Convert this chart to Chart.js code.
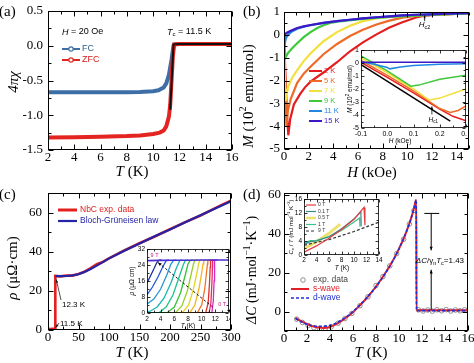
<!DOCTYPE html>
<html><head><meta charset="utf-8">
<script src="https://cdn.jsdelivr.net/npm/chart.js@4.4.0/dist/chart.umd.min.js"></script>
<style>
html,body{margin:0;padding:0;background:#fff;width:474px;height:363px;overflow:hidden;position:relative}
canvas{position:absolute}
</style></head><body>
<script>
// ================= DATA =================
// (a) susceptibility
const aT_FC   = [2,4,6,8,9,10,10.4,10.8,11.0,11.2,11.4,11.55,11.7,12,13,14,15,16];
const aChi_FC = [-0.67,-0.67,-0.67,-0.67,-0.665,-0.655,-0.64,-0.6,-0.54,-0.42,-0.2,0.0,0.02,0.025,0.025,0.025,0.025,0.025];
const aT_ZFC   = [2,4,6,8,9,10,10.5,10.8,11.0,11.2,11.3,11.4,11.5,11.6,12,13,14,15,16];
const aChi_ZFC = [-1.32,-1.315,-1.31,-1.30,-1.29,-1.27,-1.25,-1.22,-1.16,-1.02,-0.85,-0.5,-0.15,0.02,0.025,0.025,0.025,0.025,0.025];
const aT_fit   = [11.3,11.55,12,16];
const aChi_fit = [-0.92,0.02,0.025,0.025];
const aXMajor = [2,4,6,8,10,12,14,16], aYMajor = [-1.5,-1,-0.5,0,0.5];

// (b) M(H) curves, H in kOe, M in 10^2 emu/mol
const bH_2K  = [0,0.12,0.25,0.35,0.5,0.8,1.3,1.7,2.15,3.2,4.3,5.35,6.4,7.5,8.55,9.6,10.7,11.4,12.5,13.5,15];
const bM_2K  = [0,-1.8,-3.6,-4.4,-3.7,-3.05,-2.6,-2.3,-2.05,-1.65,-1.2,-0.72,-0.33,0.02,0.32,0.55,0.76,0.84,0.88,0.91,0.95];
const bH_5K  = [0,0.1,0.2,0.32,0.55,1.07,1.6,2.15,3.2,4.3,5.35,6.4,7.5,8.55,9.6,10.7,12,13,14,15];
const bM_5K  = [0,-2.0,-4.0,-3.3,-2.8,-2.1,-1.7,-1.4,-0.85,-0.4,-0.05,0.22,0.45,0.62,0.75,0.83,0.88,0.91,0.93,0.95];
const bH_7K  = [0,0.05,0.13,0.32,0.64,1.07,1.6,2.15,3.2,4.3,5.35,6.4,7.5,8.55,10.7,12.8,15];
const bM_7K  = [0,-1.5,-2.9,-2.3,-1.9,-1.55,-1.15,-0.82,-0.28,0.12,0.4,0.6,0.72,0.78,0.85,0.9,0.94];
const bH_9K  = [0,0.05,0.11,0.32,0.64,1.07,1.6,2.15,2.7,3.2,3.75,4.3,6.4,8.55,10.7,12.8,15];
const bM_9K  = [0,-0.5,-1.0,-0.8,-0.6,-0.37,-0.1,0.12,0.3,0.42,0.52,0.58,0.7,0.78,0.84,0.89,0.94];
const bH_11K = [0,0.05,0.15,0.32,0.64,1.07,1.6,2.15,3.2,4.3,5.35,6.4,7.5,8.55,9.6,10.7,11.8,12.8,13.9,15];
const bM_11K = [0,-0.4,-0.15,0.0,0.15,0.27,0.36,0.42,0.52,0.6,0.66,0.72,0.77,0.81,0.85,0.88,0.9,0.92,0.94,0.95];
const bH_15K = [0,0.27,0.55,1.07,1.6,2.15,3.2,4.3,5.35,6.4,7.5,8.55,9.6,10.7,11.8,12.8,13.9,15];
const bM_15K = [0,0.1,0.18,0.3,0.37,0.43,0.52,0.6,0.66,0.72,0.77,0.81,0.85,0.88,0.9,0.92,0.94,0.95];
const bLabels = ['2 K','5 K','7 K','9 K','11 K','15 K'];
// (b) inset, low field
const bInH_2K  = [-0.1,0.0,0.1,0.2,0.25,0.3];
const bInM_2K  = [0.05,-1.1,-2.3,-3.55,-4.1,-4.45];
const bInH_5K  = [-0.1,0.0,0.1,0.2,0.24,0.27,0.3];
const bInM_5K  = [0.2,-0.95,-2.15,-3.5,-3.8,-3.65,-3.3];
const bInH_7K  = [-0.1,0.0,0.1,0.16,0.2,0.25,0.3];
const bInM_7K  = [0.4,-0.75,-2.0,-2.85,-2.7,-2.35,-2.0];
const bInH_9K  = [-0.1,0.0,0.09,0.12,0.2,0.3];
const bInM_9K  = [0.55,-0.6,-1.78,-1.7,-1.25,-0.95];
const bInH_11K = [-0.1,-0.05,0.0,0.01,0.05,0.1,0.2,0.3];
const bInM_11K = [0.1,-0.1,-0.35,-0.45,-0.3,-0.2,-0.1,-0.05];
const bInH_15K = [-0.1,0.3];
const bInM_15K = [0.05,0.05];
const bInH_line = [-0.1,0.24];
const bInM_line = [-0.13,-4.48];

// (c) resistivity
const cT_exp   = [0,4,8,11.5,11.7,12.3,20,30,40,50,60,70,80,90,100,125,150,175,200,225,250,270,285,300];
const cRho_exp = [0.6,0.5,0.6,0.6,27.3,27.6,27.4,27.8,27.8,28.6,29.8,31.6,33.6,34.8,36.6,40.6,44.3,47.8,51.5,55.1,58.5,61.6,63.9,66.1];
const cT_fit   = [12.3,20,30,40,50,60,70,80,90,100,125,150,175,200,225,250,275,300];
const cRho_fit = [27.5,27.5,27.6,27.9,28.5,29.7,31.2,32.9,34.7,36.6,40.5,44.2,47.9,51.4,55.0,58.6,62.2,65.8];
// (c) inset: rho(T) in fields, [T, rho] pairs
const cInsetCurves = [
  [[2,15],[2.5,18.5],[3,22],[3.4,25],[3.7,26.3],[4.1,26.5]],
  [[2,9],[2.8,13],[3.6,18],[4.3,23],[4.8,26.2],[5.2,26.5]],
  [[2,4.5],[3,7],[4,12],[4.9,19],[5.5,24.5],[5.9,26.3],[6.3,26.5]],
  [[2,0.5],[2.5,1],[3.5,3],[4.5,7.5],[5.5,15],[6.3,22.5],[6.8,26.2],[7.2,26.5]],
  [[2,0],[3.8,0.3],[4.8,3],[5.8,9],[6.7,18],[7.3,24],[7.6,26.2],[8,26.5]],
  [[2,0],[5,0.3],[6,3],[6.9,10],[7.6,19],[8.0,24.5],[8.3,26.2],[8.7,26.5]],
  [[2,0],[6.2,0.3],[7.1,3.5],[7.9,11],[8.5,20],[8.8,24.5],[9.0,26.2],[9.4,26.5]],
  [[2,0],[7.2,0.3],[8.1,4],[8.8,12],[9.3,20],[9.55,24.5],[9.7,26.2],[10.1,26.5]],
  [[2,0],[8.3,0.3],[9.0,4],[9.6,12],[10.0,20],[10.2,24.5],[10.3,26.2],[10.7,26.5]],
  [[2,0],[9.4,0.3],[10.0,4],[10.45,12],[10.7,20],[10.85,24.5],[10.9,26.2],[11.3,26.5]],
  [[2,0],[10.6,0.3],[10.95,5],[11.15,15],[11.25,23],[11.3,26.2],[11.7,26.5]],
  [[2,0],[11.1,0.3],[11.35,5],[11.5,15],[11.58,23],[11.6,26.2],[12,26.5]],
  [[2,0],[11.5,0.3],[11.7,6],[11.82,16],[11.88,24],[11.9,26.3],[12.3,26.5]]
];
const cInsetTop = [[2,26.2],[4,26.3],[6,26.4],[8,26.4],[10,26.5],[12,26.5],[14,26.5]];

// (d) specific heat
const dT = [1,1.5,2,2.5,3,3.5,4,4.5,5,5.5,6,6.5,7,7.5,8,8.5,9,9.5,10,10.5,11,11.3,11.5,11.52,12,13,14,15,16];
const dS = [-3.3,-4.9,-6.4,-7.6,-8.2,-8.4,-7.9,-6.6,-4.8,-2.7,-0.3,2.6,5.7,9.1,12.9,17.0,21.6,26.6,32.4,39.0,47.0,53.0,57.5,0.7,0.7,0.7,0.7,0.7,0.7];
const dD = [-3.6,-5.3,-6.6,-7.3,-7.6,-7.5,-7.1,-6.0,-4.4,-2.4,0.0,2.8,5.8,9.1,12.8,16.9,21.4,26.4,32.2,38.9,47.0,53.0,57.5,0.5,0.5,0.5,0.5,0.5,0.5];
const dExpT = [1.1,1.6,2.1,2.6,3.1,3.6,4.1,4.7,5.3,5.9,6.6,7.3,8.0,8.6,9.2,9.8,10.4,10.9,11.3,11.7,12.1,12.5,12.9,13.3,13.7,14.1,14.5,14.9,15.3,15.7];
const dExp  = [-3.9,-5.6,-7.2,-8.3,-8.8,-8.6,-7.9,-6.0,-3.6,-1.0,3.0,7.6,13.4,18.0,23.5,29.8,37.2,45.0,52.0,0.9,0.3,0.8,0.2,0.9,0.4,1.0,0.3,0.8,0.4,0.9];
// (d) inset: Ce/T vs T
const dInNormal = [[2,2.8],[6,4.4],[10,6.7],[14,9.4]];
const dIn0T   = [[2,0.8],[4,2.6],[6,4.8],[8,7.3],[10,10.2],[11.6,13.6],[11.75,8.5]];
const dIn01T  = [[2,3.0],[3,3.8],[4,4.0],[6,5.2],[8,7.5],[10,10.3],[11.1,12.3],[11.15,8.2]];
const dIn05T  = [[2,1.8],[4,3.8],[6,6.2],[7.8,8.8]];
const dIn1T   = [[2,3.4],[3,4.1],[4,4.2],[6,5.3],[8,7.0],[10,9.4],[10.9,10.6],[10.95,8.1]];
const dInLabels = ['0 T','0.1 T','0.5 T','1 T','9 T'];

// ================= HELPERS =================
const SERIF = '"Liberation Serif","Times New Roman",serif';
const SANS = '"Liberation Sans",Arial,sans-serif';
const xy = (xs, ys) => xs.map((x, i) => ({x, y: ys[i]}));
const pr = arr => arr.map(p => ({x: p[0], y: p[1]}));
const range = (a, b, s) => { const r = []; for (let v = a; v <= b + 1e-9; v += s) r.push(+v.toFixed(6)); return r; };

function richText(ctx, segs, x, y, o) {
  const size = o.size, fam = o.family || SANS;
  ctx.save();
  ctx.translate(x, y);
  if (o.rotate) ctx.rotate(o.rotate);
  ctx.textBaseline = 'middle';
  ctx.textAlign = 'left';
  ctx.fillStyle = o.color || '#000';
  const fontFor = st => {
    const small = st.includes('b') || st.includes('p');
    return (st.includes('i') ? 'italic ' : '') + (small ? size * 0.68 : size) + 'px ' + fam;
  };
  let total = 0;
  const w = segs.map(([t, st]) => { ctx.font = fontFor(st || ''); const m = ctx.measureText(t).width; total += m; return m; });
  let cx = o.align === 'left' ? 0 : o.align === 'right' ? -total : -total / 2;
  segs.forEach(([t, st], i) => {
    st = st || '';
    ctx.font = fontFor(st);
    const dy = st.includes('b') ? size * 0.3 : st.includes('p') ? -size * 0.35 : 0;
    ctx.fillText(t, cx, dy);
    cx += w[i];
  });
  ctx.restore();
}
function seg(ctx, x1, y1, x2, y2, color, lw, dash) {
  ctx.save(); ctx.strokeStyle = color; ctx.lineWidth = lw || 1;
  if (dash) ctx.setLineDash(dash);
  ctx.beginPath(); ctx.moveTo(x1, y1); ctx.lineTo(x2, y2); ctx.stroke(); ctx.restore();
}
function arrowLine(ctx, x1, y1, x2, y2, o) {
  o = o || {};
  seg(ctx, x1, y1, x2, y2, o.color || '#000', o.lw || 1, o.dash);
  const h = o.head || 4, ang = Math.atan2(y2 - y1, x2 - x1);
  ctx.save(); ctx.fillStyle = o.color || '#000';
  ctx.beginPath(); ctx.moveTo(x2, y2);
  ctx.lineTo(x2 - h * Math.cos(ang - 0.4), y2 - h * Math.sin(ang - 0.4));
  ctx.lineTo(x2 - h * Math.cos(ang + 0.4), y2 - h * Math.sin(ang + 0.4));
  ctx.closePath(); ctx.fill(); ctx.restore();
}
function circ(ctx, x, y, r, stroke, fill, lw) {
  ctx.save(); ctx.beginPath(); ctx.arc(x, y, r, 0, Math.PI * 2);
  if (fill) { ctx.fillStyle = fill; ctx.fill(); }
  ctx.strokeStyle = stroke; ctx.lineWidth = lw || 1; ctx.stroke(); ctx.restore();
}
function line(data, color, width, extra) {
  return Object.assign({data, showLine: true, borderColor: color, backgroundColor: color, borderWidth: width, pointRadius: 0, tension: 0}, extra || {});
}

function build(o) {
  const b = o.box, a = o.area;
  const cv = document.createElement('canvas');
  cv.width = b.w; cv.height = b.h;
  cv.style.left = b.x + 'px'; cv.style.top = b.y + 'px';
  document.body.appendChild(cv);
  const tf = {family: o.tickFamily || SERIF, size: o.tickSize || 13};
  const fr = o.frame;
  const plugin = {
    id: 'frame_' + Math.random().toString(36).slice(2),
    beforeDraw(chart) {
      if (o.bg) { const c = chart.ctx; c.save(); c.fillStyle = o.bg; c.fillRect(0, 0, chart.width, chart.height); c.restore(); }
    },
    afterDraw(chart) {
      const ctx = chart.ctx, ca = chart.chartArea, xs = chart.scales.x, ys = chart.scales.y;
      const L = Math.round(ca.left) + 0.5, R = Math.round(ca.right) - 0.5, T = Math.round(ca.top) + 0.5, B = Math.round(ca.bottom) - 0.5;
      ctx.save();
      ctx.strokeStyle = '#000'; ctx.lineWidth = fr.lw || 1;
      ctx.strokeRect(L, T, R - L, B - T);
      ctx.beginPath();
      const tk = (list, len, horiz) => (list || []).forEach(v => {
        if (horiz) { const p = Math.round(xs.getPixelForValue(v)) + 0.5; ctx.moveTo(p, B); ctx.lineTo(p, B - len); ctx.moveTo(p, T); ctx.lineTo(p, T + len); }
        else { const p = Math.round(ys.getPixelForValue(v)) + 0.5; ctx.moveTo(L, p); ctx.lineTo(L + len, p); ctx.moveTo(R, p); ctx.lineTo(R - len, p); }
      });
      tk(fr.xMaj, fr.maj, true); tk(fr.xMin, fr.min, true);
      tk(fr.yMaj, fr.maj, false); tk(fr.yMin, fr.min, false);
      ctx.stroke();
      ctx.restore();
      if (o.draw) {
        ctx.save(); ctx.translate(-b.x, -b.y);
        const X = v => xs.getPixelForValue(v) + b.x, Y = v => ys.getPixelForValue(v) + b.y;
        o.draw(ctx, X, Y);
        ctx.restore();
      }
    }
  };
  return new Chart(cv, {
    type: 'scatter',
    data: {datasets: o.datasets},
    options: {
      responsive: false, animation: false, devicePixelRatio: 1,
      layout: {autoPadding: false, padding: {left: 0, top: a.t - b.y, right: b.x + b.w - a.r, bottom: 0}},
      plugins: {legend: {display: false}, tooltip: {enabled: false}},
      elements: {line: {capBezierPoints: true}},
      scales: {
        x: {type: 'linear', position: 'bottom', min: o.x.min, max: o.x.max,
            ticks: {stepSize: o.x.step, font: tf, color: '#000', padding: o.x.pad || 0, autoSkip: false, maxRotation: 0, includeBounds: false,
                    callback: o.x.fmt || (v => String(v))},
            grid: {display: false, drawTicks: false}, border: {display: false},
            afterFit(s) { s.height = b.y + b.h - a.b; s.paddingLeft = 0; s.paddingRight = 0; }},
        y: {type: 'linear', position: 'left', min: o.y.min, max: o.y.max,
            ticks: {stepSize: o.y.step, font: tf, color: '#000', padding: o.y.pad || 0, autoSkip: false, includeBounds: false,
                    callback: o.y.fmt || (v => String(v))},
            grid: {display: false, drawTicks: false}, border: {display: false},
            afterFit(s) { s.width = a.l - b.x; s.paddingTop = 0; s.paddingBottom = 0; }}
      }
    },
    plugins: [plugin]
  });
}

// ================= COLORS =================
const C_FC = '#3d6fa6', C_ZFC = '#e32420';
const bColors = ['#e41d1f', '#ee6a26', '#f3e03c', '#3ec83a', '#2386e2', '#3d17c6'];
const cInsetColors = ['#1c2f9c','#2456d8','#2596d6','#19b5b5','#1fc28a','#34c23a','#96d02a','#e6d424','#f3b226','#ef7428','#e2302a','#e22a78','#d22cc6'];
const dInColors = ['#e23c3c', '#3a8a8a', '#f0e070', '#3cc08c', '#333333'];

// ================= INSETS (drawn beneath main canvases) =================
// (b) inset
build({
  box: {x: 343, y: 46, w: 124, h: 101}, area: {l: 361, t: 50, r: 466, b: 128}, bg: '#fff',
  tickFamily: SANS, tickSize: 7,
  x: {min: -0.1, max: 0.3, step: 0.1, pad: 2, fmt: v => v.toFixed(1)},
  y: {min: -5, max: 1, step: 1, pad: 2},
  frame: {maj: 3, min: 2, lw: 0.8, xMaj: [-0.1,0,0.1,0.2,0.3], xMin: [-0.05,0.05,0.15,0.25], yMaj: range(-5,1,1), yMin: range(-4.5,0.5,1)},
  datasets: [
    line(xy(bInH_15K, bInM_15K), bColors[5], 1.5),
    line(xy(bInH_11K, bInM_11K), bColors[4], 1.5),
    line(xy(bInH_9K, bInM_9K), bColors[3], 1.5),
    line(xy(bInH_7K, bInM_7K), bColors[2], 1.5),
    line(xy(bInH_5K, bInM_5K), bColors[1], 1.5),
    line(xy(bInH_2K, bInM_2K), bColors[0], 1.5),
    line(xy(bInH_line, bInM_line), '#000', 1.5)
  ],
  draw(ctx, X, Y) {
    richText(ctx, [['M','i'],[' (10',''],['2','p'],[' emu/mol)','']], 350, 89, {size: 6.5, rotate: -Math.PI/2});
    richText(ctx, [['H','i'],[' (kOe)','']], 400, 141, {size: 6.5});
    arrowLine(ctx, X(0.17), Y(-3.95), X(0.17), Y(-3.35), {head: 3, lw: 0.8});
    richText(ctx, [['H','i'],['c1','b']], X(0.175), Y(-4.4), {size: 6.5});
  }
});

// (c) inset
build({
  box: {x: 127, y: 244, w: 103, h: 86}, area: {l: 147, t: 249, r: 229, b: 313}, bg: '#fff',
  tickFamily: SANS, tickSize: 6.5,
  x: {min: 2, max: 14, step: 2, pad: 2},
  y: {min: 0, max: 32, step: 8, pad: 2},
  frame: {maj: 3, min: 2, lw: 0.8, xMaj: range(2,14,2), xMin: range(3,13,2), yMaj: range(0,32,8), yMin: range(4,28,8)},
  datasets: [line(pr(cInsetTop), '#4a2ed0', 1.6)].concat(cInsetCurves.map((c, i) => line(pr(c), cInsetColors[i], 1.3))),
  draw(ctx, X, Y) {
    richText(ctx, [['ρ','i'],[' (μΩ cm)','']], 132, 281, {size: 6.5, rotate: -Math.PI/2});
    richText(ctx, [['T','i'],[' (K)','']], 188, 326, {size: 6.5});
    arrowLine(ctx, X(11.6), Y(3), X(3.6), Y(25.3), {head: 4, lw: 0.9, dash: [2.5, 2]});
    richText(ctx, [['9 T','']], X(3.1), Y(28.8), {size: 5.5, color: '#c0208a'});
    richText(ctx, [['0 T','']], X(13.0), Y(4.2), {size: 5.5, color: '#c0208a'});
  }
});

// (d) inset
build({
  box: {x: 286, y: 196, w: 99, h: 76}, area: {l: 304, t: 199, r: 379, b: 255}, bg: '#fff',
  tickFamily: SANS, tickSize: 6.5,
  x: {min: 2, max: 14, step: 2, pad: 1},
  y: {min: 0, max: 16, step: 4, pad: 2},
  frame: {maj: 3, min: 2, lw: 0.8, xMaj: range(2,14,2), xMin: range(3,13,2), yMaj: range(0,16,4), yMin: range(2,14,4)},
  datasets: [
    line(pr(dIn0T), dInColors[0], 1.2),
    line(pr(dIn01T), dInColors[1], 1.2),
    line(pr(dIn1T), dInColors[3], 1.2),
    line(pr(dInNormal), dInColors[4], 1.2, {borderDash: [3, 2]}),
    line(pr(dIn05T), dInColors[2], 3)
  ],
  draw(ctx, X, Y) {
    richText(ctx, [['C','i'],['e','ib'],[' / ',''],['T','i'],[' (mJ mol',''],['−1','p'],[' K',''],['−2','p'],[')','']], 291, 227, {size: 6, rotate: -Math.PI/2});
    richText(ctx, [['T','i'],[' (K)','']], 342, 268, {size: 6.5});
    dInLabels.forEach((t, i) => {
      const yy = 205 + i * 6.5;
      seg(ctx, 306, yy, 316, yy, dInColors[i], i === 2 ? 2.5 : 1.2, i === 4 ? [3, 2] : null);
      richText(ctx, [[t, '']], 318, yy, {size: 5, align: 'left', color: '#333'});
    });
  }
});

// ================= MAIN PANELS =================
// (a)
build({
  box: {x: 0, y: 0, w: 252, h: 180}, area: {l: 48, t: 11, r: 232, b: 150},
  x: {min: 2, max: 16, step: 2, pad: 0},
  y: {min: -1.5, max: 0.5, step: 0.5, pad: 5, fmt: v => v.toFixed(1)},
  frame: {maj: 5, min: 3, xMaj: aXMajor, xMin: range(3,15,2), yMaj: aYMajor, yMin: [-1.25,-0.75,-0.25,0.25]},
  datasets: [
    line(xy(aT_fit, aChi_fit), '#111', 2),
    line(xy(aT_ZFC, aChi_ZFC), C_ZFC, 4),
    line(xy(aT_FC, aChi_FC), C_FC, 4)
  ],
  draw(ctx, X, Y) {
    richText(ctx, [['(a)','']], -1, 12, {size: 15, family: SERIF, align: 'left'});
    richText(ctx, [['T','i'],[' (K)','']], 132, 172, {size: 15, family: SERIF});
    richText(ctx, [['4πχ','i']], 14, 82, {size: 15, family: SERIF, rotate: -Math.PI/2});
    richText(ctx, [['H','i'],[' = 20 Oe','']], 62, 32, {size: 9, align: 'left'});
    richText(ctx, [['T','i'],['c','b'],[' = 11.5 K','']], 167, 32, {size: 9, align: 'left'});
    seg(ctx, 62, 49, 80, 49, C_FC, 2); circ(ctx, 71, 49, 2.2, C_FC, '#fff', 1.2);
    richText(ctx, [['FC','']], 82, 49, {size: 9, align: 'left', color: '#2b5f8f'});
    seg(ctx, 62, 60, 80, 60, C_ZFC, 2); circ(ctx, 71, 60, 2.2, C_ZFC, '#fff', 1.2);
    richText(ctx, [['ZFC','']], 82, 60, {size: 9, align: 'left', color: '#d41c18'});
  }
});

// (b)
build({
  box: {x: 237, y: 0, w: 237, h: 180}, area: {l: 284, t: 12, r: 469, b: 149},
  x: {min: 0, max: 15, step: 2, pad: 0},
  y: {min: -5, max: 1, step: 1, pad: 4},
  frame: {maj: 5, min: 3, xMaj: range(0,14,2), xMin: range(1,15,2), yMaj: range(-5,1,1), yMin: range(-4.5,0.5,1)},
  datasets: [
    line(xy(bH_15K, bM_15K), bColors[5], 2.2),
    line(xy(bH_11K, bM_11K), bColors[4], 2.2),
    line(xy(bH_9K, bM_9K), bColors[3], 2.2),
    line(xy(bH_7K, bM_7K), bColors[2], 2.2),
    line(xy(bH_5K, bM_5K), bColors[1], 2.2),
    line(xy(bH_2K, bM_2K), bColors[0], 2.2)
  ],
  draw(ctx, X, Y) {
    richText(ctx, [['(b)','']], 243, 12, {size: 15, family: SERIF, align: 'left'});
    richText(ctx, [['H','i'],[' (kOe)','']], 372, 173, {size: 15, family: SERIF});
    richText(ctx, [['M','i'],[' (10',''],['2','p'],[' emu/mol)','']], 249, 96, {size: 15, family: SERIF, rotate: -Math.PI/2});
    bLabels.forEach((t, i) => {
      const yy = 71 + i * 10;
      seg(ctx, 309, yy, 322, yy, bColors[i], 2);
      richText(ctx, [[t, '']], 324, yy, {size: 7.5, align: 'left', color: bColors[i]});
    });
    arrowLine(ctx, X(11.4), Y(0.6), X(11.4), Y(0.85), {head: 3, lw: 0.8});
    richText(ctx, [['H','i'],['c2','b']], X(11.4), Y(0.42), {size: 8});
  }
});

// (c)
build({
  box: {x: 0, y: 180, w: 245, h: 183}, area: {l: 48, t: 193, r: 231, b: 330},
  x: {min: 0, max: 300, step: 50, pad: 0},
  y: {min: 0, max: 70, step: 20, pad: 6},
  frame: {maj: 5, min: 3, xMaj: range(0,300,50), xMin: range(25,275,50), yMaj: [0,20,40,60], yMin: [10,30,50]},
  datasets: [
    line(xy(cT_fit, cRho_fit), '#2424a6', 2.2),
    line(xy(cT_exp, cRho_exp), '#e2201e', 2.6)
  ],
  draw(ctx, X, Y) {
    richText(ctx, [['(c)','']], -1, 195, {size: 15, family: SERIF, align: 'left'});
    richText(ctx, [['T','i'],[' (K)','']], 132, 353, {size: 15, family: SERIF});
    richText(ctx, [['ρ','i'],[' (μΩ·cm)','']], 13, 268, {size: 15, family: SERIF, rotate: -Math.PI/2});
    seg(ctx, 58, 210, 77, 210, '#e2201e', 3);
    richText(ctx, [['NbC exp. data','']], 80, 210, {size: 8.5, align: 'left', color: '#e2201e'});
    seg(ctx, 58, 221, 77, 221, '#2424a6', 2.2);
    richText(ctx, [['Bloch-Grüneisen law','']], 80, 221, {size: 8.5, align: 'left', color: '#2424a6'});
    arrowLine(ctx, 61, 300, X(13.5), Y(25.8), {head: 3.5, lw: 0.8, color: '#222'});
    richText(ctx, [['12.3 K','']], 62, 305, {size: 8, align: 'left'});
    arrowLine(ctx, 59, 323, X(12.5), Y(1.2), {head: 3.5, lw: 0.8, color: '#222'});
    richText(ctx, [['11.5 K','']], 60, 324, {size: 8, align: 'left'});
  }
});

// (d)
build({
  box: {x: 237, y: 180, w: 237, h: 183}, area: {l: 284, t: 193, r: 468, b: 331},
  x: {min: 0, max: 16, step: 2, pad: 0},
  y: {min: -10, max: 61, step: 20, pad: 3},
  frame: {maj: 5, min: 3, xMaj: range(0,16,2), xMin: range(1,15,2), yMaj: [0,20,40,60], yMin: [-10,10,30,50]},
  datasets: [
    line(xy(dT, dD), '#1f2fd6', 1.6, {borderDash: [3, 2], cubicInterpolationMode: 'monotone'}),
    line(xy(dT, dS), '#e2202a', 2, {cubicInterpolationMode: 'monotone'}),
    {data: xy(dExpT, dExp), showLine: false, pointRadius: 2.3, pointBorderColor: '#8f8f8f', pointBackgroundColor: 'rgba(255,255,255,0)', pointBorderWidth: 1}
  ],
  draw(ctx, X, Y) {
    richText(ctx, [['(d)','']], 243, 195, {size: 15, family: SERIF, align: 'left'});
    richText(ctx, [['T','i'],[' (K)','']], 371, 353, {size: 15, family: SERIF});
    richText(ctx, [['ΔC','i'],[' (mJ·mol',''],['−1','p'],['·K',''],['−1','p'],[')','']], 252, 270, {size: 14, family: SERIF, rotate: -Math.PI/2});
    circ(ctx, 303, 280, 2.3, '#8f8f8f', null, 1);
    richText(ctx, [['exp. data','']], 313, 280, {size: 8.5, align: 'left', color: '#444'});
    seg(ctx, 291, 289, 309, 289, '#e2202a', 2);
    richText(ctx, [['s-wave','']], 313, 289, {size: 8.5, align: 'left', color: '#e2202a'});
    seg(ctx, 291, 298, 309, 298, '#1f2fd6', 1.6, [3, 2]);
    richText(ctx, [['d-wave','']], 313, 298, {size: 8.5, align: 'left', color: '#1f2fd6'});
    const xv = X(12.8);
    seg(ctx, X(12.2), Y(50.5), X(13.5), Y(50.5), '#000', 1);
    arrowLine(ctx, xv, Y(50.5), xv, Y(31.5), {head: 4, lw: 1});
    arrowLine(ctx, xv, Y(1), xv, Y(21.5), {head: 4, lw: 1});
    richText(ctx, [['Δ','i'],['C','i'],['/γ',''],['n','b'],['T','i'],['c','b'],['=1.43','']], X(13.56), Y(26.2), {size: 8});
  }
});
</script>
</body></html>
